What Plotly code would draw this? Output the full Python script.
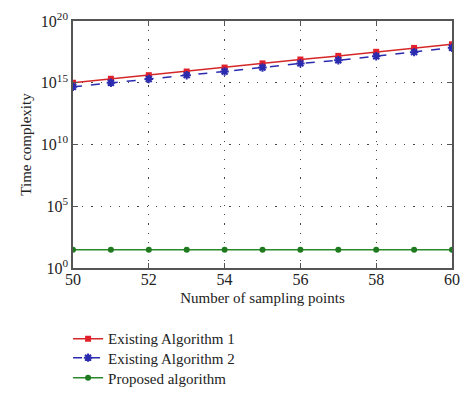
import plotly.graph_objects as go

# sampling points on the x axis
n_points = [50, 51, 52, 53, 54, 55, 56, 57, 58, 59, 60]

# time complexity
existing_1 = [1.0e15, 2.1e15, 4.1e15, 8.1e15, 1.7e16, 3.7e16,
              7.6e16, 1.5e17, 3.2e17, 6.6e17, 1.3e18]
existing_2 = [4.7e14, 1.0e15, 2.0e15, 4.1e15, 8.1e15, 1.7e16,
              3.7e16, 6.6e16, 1.4e17, 3.0e17, 6.9e17]
proposed = [30] * 11

names = ["Existing Algorithm 1", "Existing Algorithm 2", "Proposed algorithm"]

y_tick_vals = [1, 1e5, 1e10, 1e15, 1e20]
y_tick_text = ["10<sup>0</sup>", "10<sup>5</sup>", "10<sup>10</sup>",
               "10<sup>15</sup>", "10<sup>20</sup>"]

font_name = "Liberation Serif"


def main():
    fig = go.Figure()

    fig.add_trace(go.Scatter(
        x=n_points, y=existing_1, name=names[0], mode="lines+markers",
        line=dict(color="#d62728", width=1.5),
        marker=dict(symbol="square", size=6, color="#e0202a"),
        legend="legend",
    ))
    fig.add_trace(go.Scatter(
        x=n_points, y=existing_2, name=names[1], mode="lines+markers",
        line=dict(color="#2b2bb0", width=1.5, dash="dash"),
        marker=dict(symbol="asterisk-open", size=7,
                    line=dict(color="#2020e0", width=2)),
        legend="legend2",
    ))
    fig.add_trace(go.Scatter(
        x=n_points, y=proposed, name=names[2], mode="lines+markers",
        line=dict(color="#2a8a2a", width=1.5),
        marker=dict(symbol="circle", size=6, color="#1f7a1f"),
        legend="legend3",
    ))

    axis_common = dict(
        showgrid=True, gridcolor="#444", griddash="1.2px,8px", gridwidth=1.2,
        showline=True, linecolor="#555", linewidth=1.5, mirror="ticks",
        ticks="inside", ticklen=5, tickcolor="#555",
        tickfont=dict(size=16), zeroline=False, automargin=True,
    )

    # one legend per row so the rows sit as tight as in the original
    def row_legend(y):
        return dict(x=-0.013, y=y, xanchor="left", yanchor="middle",
                    font=dict(size=15), bgcolor="rgba(0,0,0,0)",
                    itemwidth=30)

    fig.update_layout(
        width=474, height=404,
        margin=dict(l=73, r=22, t=21, b=136, autoexpand=False),
        paper_bgcolor="white", plot_bgcolor="white",
        font=dict(family=font_name, size=14, color="#222"),
        showlegend=True,
        legend=row_legend(-0.287),
        legend2=row_legend(-0.364),
        legend3=row_legend(-0.445),
        xaxis=dict(
            title=dict(text="Number of sampling points", standoff=6,
                       font=dict(size=15)),
            range=[50, 60], dtick=2, tick0=50, ticklabelstandoff=-4,
            **axis_common,
        ),
        yaxis=dict(
            title=dict(text="Time complexity", standoff=6, font=dict(size=15)),
            type="log", range=[0, 20],
            tickvals=y_tick_vals, ticktext=y_tick_text,
            **axis_common,
        ),
    )

    fig.write_html("out.html", config={"displayModeBar": False},
                   post_script="document.body.style.margin='0';")


if __name__ == '__main__':
    main()
